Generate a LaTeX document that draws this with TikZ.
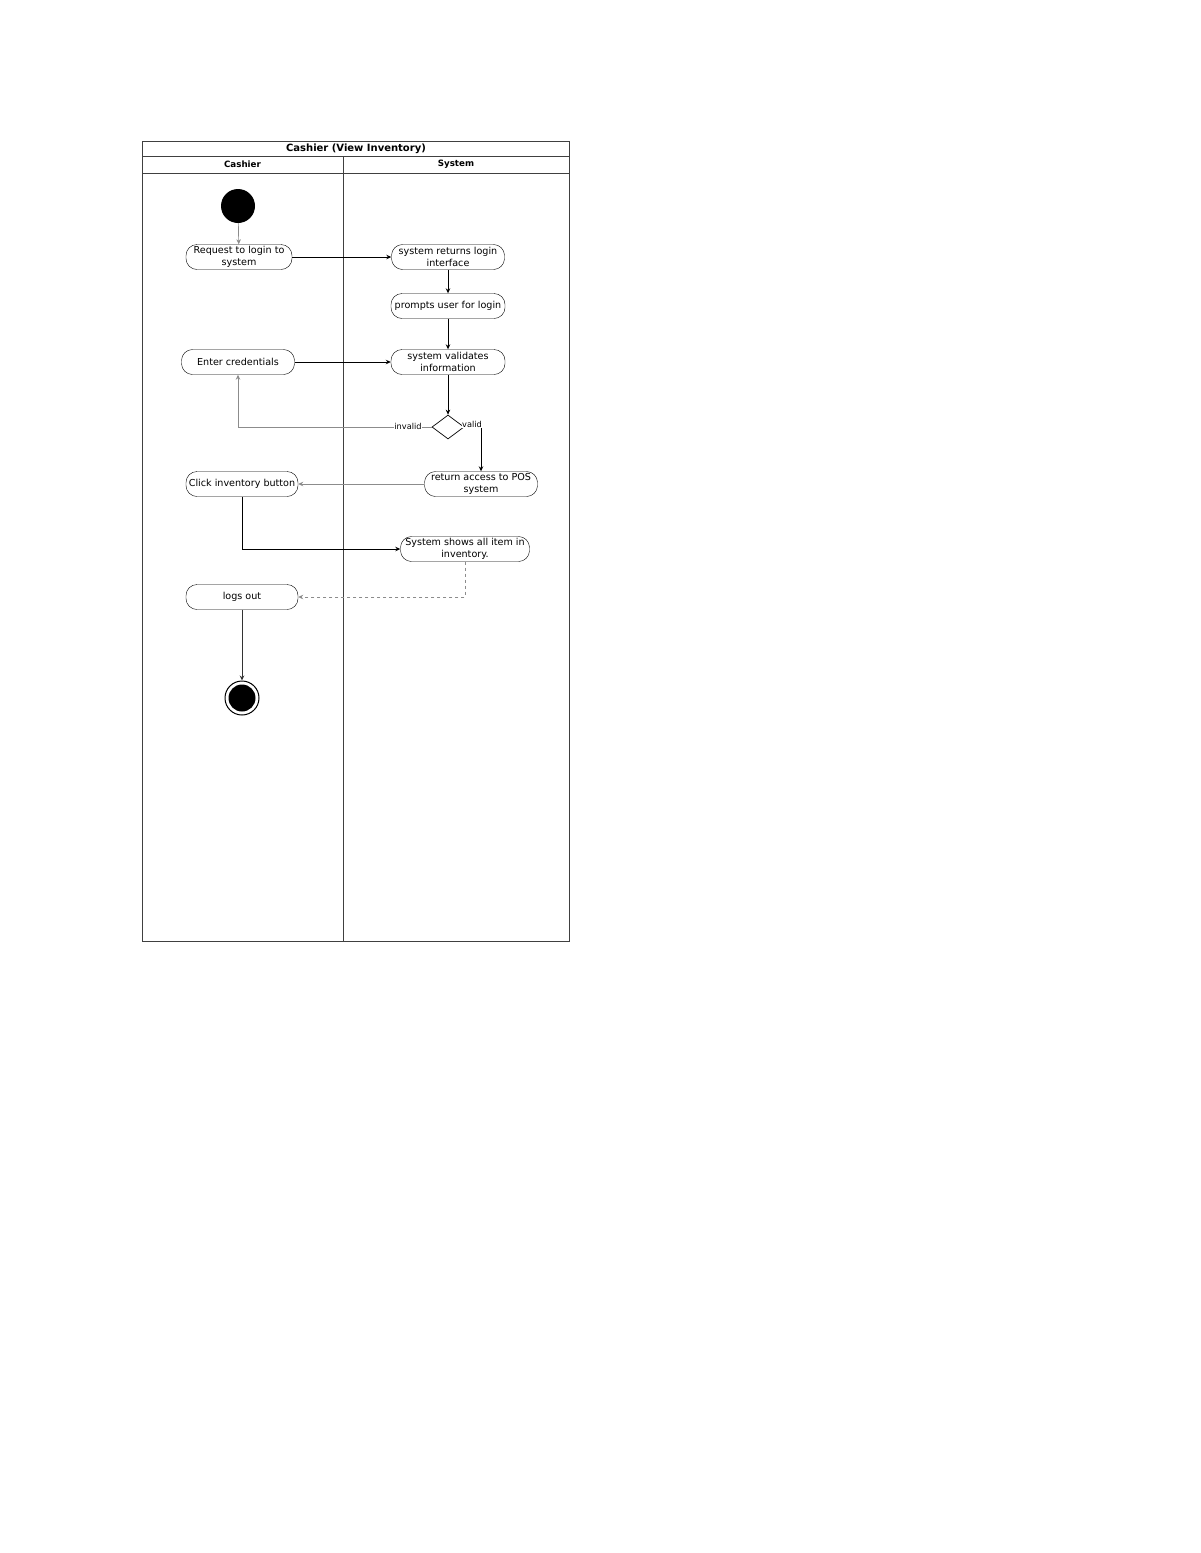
\documentclass[tikz,border=0pt]{standalone}
\usepackage{fontspec}
\setmainfont{DejaVu Sans}
\usetikzlibrary{arrows.meta,shapes.geometric}
\begin{document}
\begin{tikzpicture}[x=1pt,y=-1pt,
  act/.style={draw, rounded corners=11pt, minimum height=25pt, align=center,
    font=\fontsize{9.6}{11.5}\selectfont, inner sep=0.5pt, fill=white},
  hdr/.style={font=\bfseries\fontsize{8.7}{10}\selectfont},
  lbl/.style={font=\fontsize{8.2}{9}\selectfont, fill=white, inner sep=0.5pt},
  flow/.style={draw=black, line width=0.9pt, -{Stealth[length=5pt,width=4.5pt]}},
  lflow/.style={draw=black!45, line width=0.7pt, -{Stealth[length=5pt,width=4.5pt]}},
  lane/.style={draw=black!75, line width=0.9pt}
]
\useasboundingbox (0,0) rectangle (1200,1553);
\fill[white] (0,0) rectangle (1200,1553);

% swimlane frame
\draw[lane] (142,141) rectangle (569,941);
\draw[lane] (142,156) -- (569,156);
\draw[lane] (142,173) -- (569,173);
\draw[lane] (343,156) -- (343,941);
\node[hdr, font=\bfseries\fontsize{10}{11}\selectfont] (title) at (356,148.5) {Cashier (View Inventory)};
\node[hdr] (laneA) at (242.5,164.5) {Cashier};
\node[hdr] (laneB) at (456,164.5) {System};

% nodes
\node[circle, fill=black, minimum size=34pt, inner sep=0pt] (start) at (238,206) {};
\node[act, minimum width=106pt] (req) at (239,257) {Request to login to\\system};
\node[act, minimum width=113pt] (ret) at (448,257) {system returns login\\interface};
\node[act, minimum width=114pt] (prm) at (448,306) {prompts user for login};
\node[act, minimum width=113pt] (ent) at (238,362) {Enter credentials};
\node[act, minimum width=114pt] (val) at (448,362) {system validates\\information};
\node[diamond, draw, line width=0.7pt, minimum width=32pt, minimum height=24pt, inner sep=0pt, aspect=1.33] (dia) at (448,427) {};
\node[act, minimum width=113pt] (acc) at (481,484) {return access to POS\\system};
\node[act, minimum width=112pt] (clk) at (242,484) {Click inventory button};
\node[act, minimum width=129pt] (shw) at (465,549) {System shows all item in\\inventory.};
\node[act, minimum width=112pt] (out) at (242,597) {logs out};
\node[circle, draw, line width=1pt, fill=white, minimum size=34pt, inner sep=0pt] (end) at (242,698) {};
\node[circle, fill=black, minimum size=27pt, inner sep=0pt] (endin) at (end.center) {};

% connectors
\draw[lflow] (start) -- (req);
\draw[flow] (req) -- (ret);
\draw[flow] (ret) -- (prm);
\draw[flow] (prm) -- (val);
\draw[flow] (ent) -- (val);
\draw[flow] (val) -- (dia);
\draw[lflow] (dia.west) -| (ent.south);
\draw[flow] (dia.east) -| (acc.north);
\node[lbl] (linv) at (408,426) {invalid};
\node[lbl] (lval) at (472,424) {valid};
\draw[lflow] (acc) -- (clk);
\draw[flow] (clk.south) |- (shw.west);
\draw[lflow, dashed] (shw.south) |- (out.east);
\draw[flow, draw=black!80] (out) -- (end);
\end{tikzpicture}
\end{document}
